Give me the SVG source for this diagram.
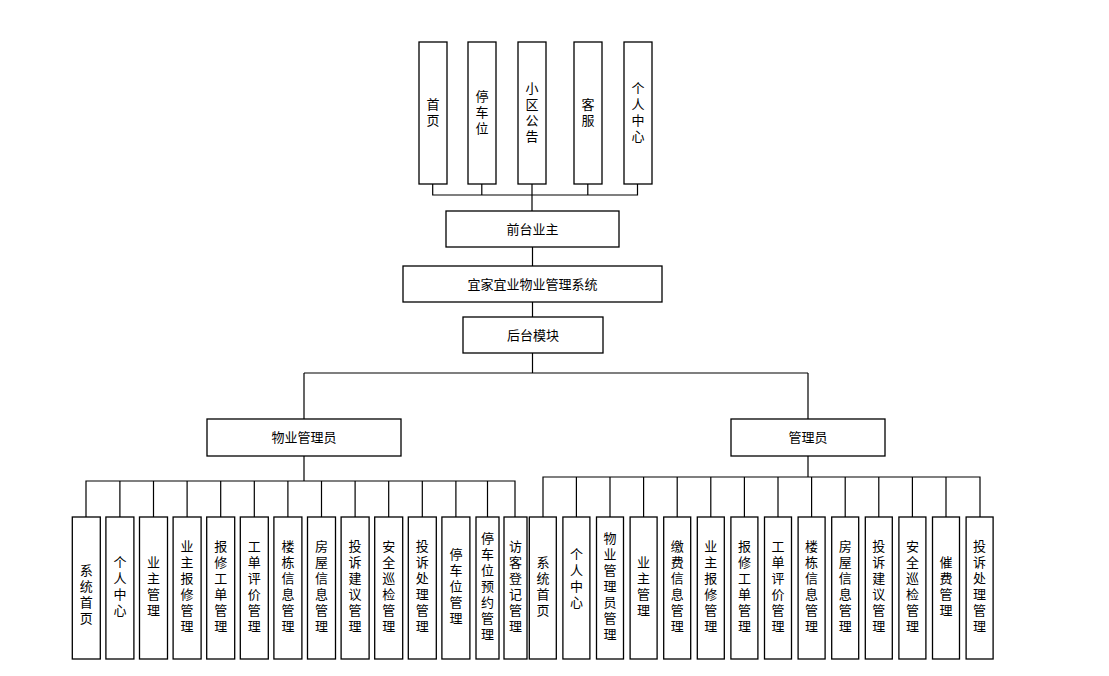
<svg xmlns="http://www.w3.org/2000/svg" width="1109" height="676" viewBox="0 0 1109 676">
<style>
rect{fill:#fff;stroke:#000;stroke-width:1.3}
text{font-family:"Noto Sans CJK SC",sans-serif;font-size:13px;text-anchor:middle;fill:#000}
.v{writing-mode:vertical-rl;text-orientation:upright;letter-spacing:3px;dominant-baseline:central}
.c path{fill:none;stroke:#000;stroke-width:1.2}
</style>
<rect x="0" y="0" width="1109" height="676" style="stroke:none"/>
<g class="c">
<path d="M432.7 184V195H637.5V184M481.8 184V195M532 184V211M587.8 184V195"/>
<path d="M532.5 247V266M532.5 302V317M532.5 353V373M304 373H808M304 373V419M808 373V419"/>
<path d="M304 456V481M86 517V481H515V517M119.9 481V517M153.5 481V517M187.1 481V517M220.7 481V517M254.3 481V517M287.9 481V517M321.5 481V517M355.1 481V517M388.7 481V517M422.3 481V517M455.9 481V517M487.5 481V517"/>
<path d="M808 456V477M543 517V477H980V517M576.4 477V517M610 477V517M643.6 477V517M677.2 477V517M710.8 477V517M744.4 477V517M778 477V517M811.6 477V517M845.2 477V517M878.8 477V517M912.4 477V517M946 477V517"/>
</g>
<g id="t1"><rect x="419" y="42" width="28" height="142"/><text class="v" x="433" y="114">首页</text></g>
<g id="t2"><rect x="468" y="42" width="28" height="142"/><text class="v" x="482" y="114">停车位</text></g>
<g id="t3"><rect x="518" y="42" width="28" height="142"/><text class="v" x="532" y="114">小区公告</text></g>
<g id="t4"><rect x="574" y="42" width="28" height="142"/><text class="v" x="588" y="114">客服</text></g>
<g id="t5"><rect x="624" y="42" width="28" height="142"/><text class="v" x="638" y="114">个人中心</text></g>
<g id="qt"><rect x="446" y="211" width="173" height="36"/><text x="532.5" y="234">前台业主</text></g>
<g id="sys"><rect x="403" y="266" width="259" height="36"/><text x="532.5" y="289">宜家宜业物业管理系统</text></g>
<g id="ht"><rect x="463" y="317" width="140" height="36"/><text x="533" y="340">后台模块</text></g>
<g id="wy"><rect x="207" y="419" width="194" height="37"/><text x="304" y="442">物业管理员</text></g>
<g id="gly"><rect x="731" y="419" width="154" height="37"/><text x="808" y="442">管理员</text></g>
<g id="L1"><rect x="72.3" y="517" width="28" height="142"/><text class="v" x="86.3" y="596">系统首页</text></g>
<g id="L2"><rect x="105.9" y="517" width="28" height="142"/><text class="v" x="119.9" y="588">个人中心</text></g>
<g id="L3"><rect x="139.5" y="517" width="28" height="142"/><text class="v" x="153.5" y="588">业主管理</text></g>
<g id="L4"><rect x="173.1" y="517" width="28" height="142"/><text class="v" x="187.1" y="588">业主报修管理</text></g>
<g id="L5"><rect x="206.7" y="517" width="28" height="142"/><text class="v" x="220.7" y="588">报修工单管理</text></g>
<g id="L6"><rect x="240.3" y="517" width="28" height="142"/><text class="v" x="254.3" y="588">工单评价管理</text></g>
<g id="L7"><rect x="273.9" y="517" width="28" height="142"/><text class="v" x="287.9" y="588">楼栋信息管理</text></g>
<g id="L8"><rect x="307.5" y="517" width="28" height="142"/><text class="v" x="321.5" y="588">房屋信息管理</text></g>
<g id="L9"><rect x="341.1" y="517" width="28" height="142"/><text class="v" x="355.1" y="588">投诉建议管理</text></g>
<g id="L10"><rect x="374.7" y="517" width="28" height="142"/><text class="v" x="388.7" y="588">安全巡检管理</text></g>
<g id="L11"><rect x="408.3" y="517" width="28" height="142"/><text class="v" x="422.3" y="588">投诉处理管理</text></g>
<g id="L12"><rect x="441.9" y="517" width="28" height="142"/><text class="v" x="455.9" y="588">停车位管理</text></g>
<g id="L13"><rect x="476" y="517" width="23" height="142"/><text class="v" x="487.5" y="588">停车位预约管理</text></g>
<g id="L14"><rect x="504" y="517" width="23" height="142"/><text class="v" x="515.5" y="588">访客登记管理</text></g>
<g id="R1"><rect x="529.3" y="517" width="27" height="142"/><text class="v" x="543" y="588">系统首页</text></g>
<g id="R2"><rect x="562.9" y="517" width="27" height="142"/><text class="v" x="576.4" y="580">个人中心</text></g>
<g id="R3"><rect x="596.5" y="517" width="27" height="142"/><text class="v" x="610" y="588">物业管理员管理</text></g>
<g id="R4"><rect x="630.1" y="517" width="27" height="142"/><text class="v" x="643.6" y="588">业主管理</text></g>
<g id="R5"><rect x="663.7" y="517" width="27" height="142"/><text class="v" x="677.2" y="588">缴费信息管理</text></g>
<g id="R6"><rect x="697.3" y="517" width="27" height="142"/><text class="v" x="710.8" y="588">业主报修管理</text></g>
<g id="R7"><rect x="730.9" y="517" width="27" height="142"/><text class="v" x="744.4" y="588">报修工单管理</text></g>
<g id="R8"><rect x="764.5" y="517" width="27" height="142"/><text class="v" x="778" y="588">工单评价管理</text></g>
<g id="R9"><rect x="798.1" y="517" width="27" height="142"/><text class="v" x="811.6" y="588">楼栋信息管理</text></g>
<g id="R10"><rect x="831.7" y="517" width="27" height="142"/><text class="v" x="845.2" y="588">房屋信息管理</text></g>
<g id="R11"><rect x="865.3" y="517" width="27" height="142"/><text class="v" x="878.8" y="588">投诉建议管理</text></g>
<g id="R12"><rect x="898.9" y="517" width="27" height="142"/><text class="v" x="912.4" y="588">安全巡检管理</text></g>
<g id="R13"><rect x="932.5" y="517" width="27" height="142"/><text class="v" x="946" y="588">催费管理</text></g>
<g id="R14"><rect x="966.1" y="517" width="27" height="142"/><text class="v" x="979.6" y="588">投诉处理管理</text></g>
</svg>
